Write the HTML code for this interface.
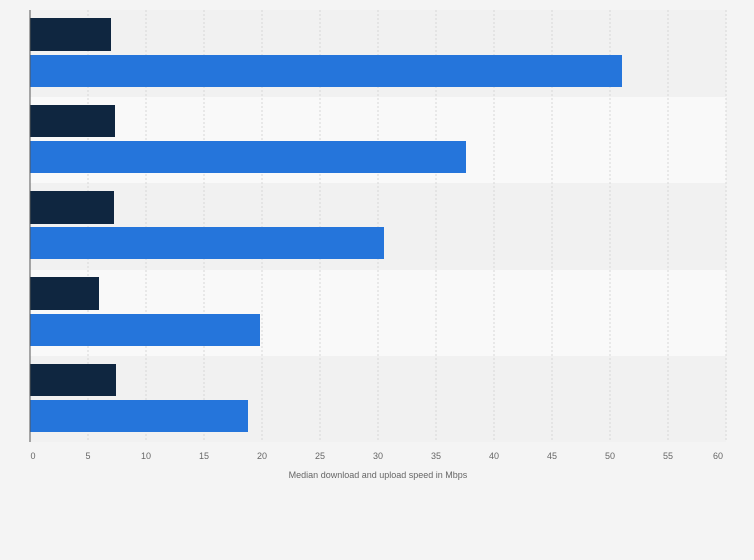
<!DOCTYPE html><html><head><style>body{margin:0;background:#f4f4f4;}</style></head><body>
<svg width="754" height="560" xmlns="http://www.w3.org/2000/svg" style="display:block;font-family:'Liberation Sans',sans-serif">
<rect width="754" height="560" fill="#f4f4f4"/>
<rect x="30" y="10" width="696" height="87" fill="#f1f1f1"/>
<rect x="30" y="97" width="696" height="86" fill="#f9f9f9"/>
<rect x="30" y="183" width="696" height="87" fill="#f1f1f1"/>
<rect x="30" y="270" width="696" height="86" fill="#f9f9f9"/>
<rect x="30" y="356" width="696" height="86" fill="#f1f1f1"/>
<g stroke="#d6d6d6" stroke-dasharray="2,2" stroke-width="1">
<line x1="88" y1="10" x2="88" y2="442"/><line x1="146" y1="10" x2="146" y2="442"/><line x1="204" y1="10" x2="204" y2="442"/><line x1="262" y1="10" x2="262" y2="442"/><line x1="320" y1="10" x2="320" y2="442"/><line x1="378" y1="10" x2="378" y2="442"/><line x1="436" y1="10" x2="436" y2="442"/><line x1="494" y1="10" x2="494" y2="442"/><line x1="552" y1="10" x2="552" y2="442"/><line x1="610" y1="10" x2="610" y2="442"/><line x1="668" y1="10" x2="668" y2="442"/><line x1="726" y1="10" x2="726" y2="442"/>
</g>
<g fill="#0f2640">
<rect x="30" y="18" width="81" height="33"/><rect x="30" y="105" width="85" height="32"/><rect x="30" y="191" width="84" height="33"/><rect x="30" y="277" width="69" height="33"/><rect x="30" y="364" width="86" height="32"/>
</g>
<g fill="#2575db">
<rect x="30" y="55" width="592" height="32"/><rect x="30" y="141" width="436" height="32"/><rect x="30" y="227" width="354" height="32"/><rect x="30" y="314" width="230" height="32"/><rect x="30" y="400" width="218" height="32"/>
</g>
<line x1="30" y1="10" x2="30" y2="442" stroke="#555" stroke-width="1"/>
<g font-size="9" fill="#666" text-anchor="middle">
<text x="33" y="459">0</text><text x="88" y="459">5</text><text x="146" y="459">10</text><text x="204" y="459">15</text><text x="262" y="459">20</text><text x="320" y="459">25</text><text x="378" y="459">30</text><text x="436" y="459">35</text><text x="494" y="459">40</text><text x="552" y="459">45</text><text x="610" y="459">50</text><text x="668" y="459">55</text><text x="718" y="459">60</text>
<text x="378" y="478">Median download and upload speed in Mbps</text>
</g>
</svg></body></html>
